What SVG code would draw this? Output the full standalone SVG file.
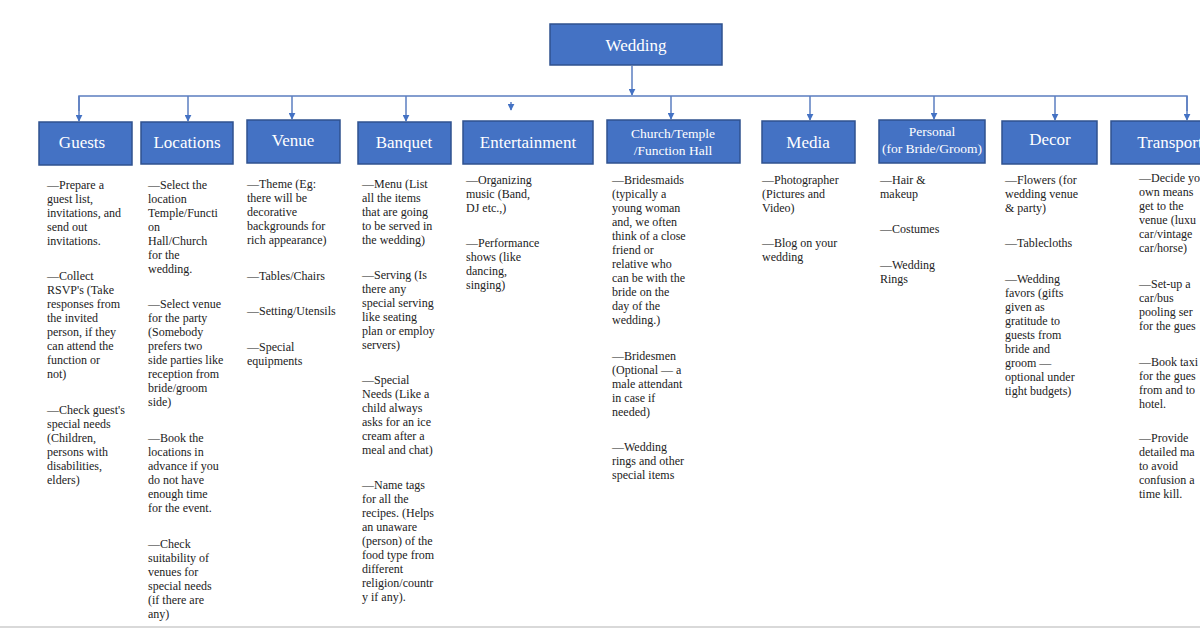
<svg xmlns="http://www.w3.org/2000/svg" width="1200" height="630" viewBox="0 0 1200 630">
<style>
.b{fill:#4472C4;stroke:#2F528F;stroke-width:1.5}
.h{font-family:"Liberation Serif",serif;font-size:17px;fill:#fff;text-anchor:middle}
.h2{font-family:"Liberation Serif",serif;font-size:13.5px;fill:#fff;text-anchor:middle}
.t{font-family:"Liberation Serif",serif;font-size:12px;fill:#222}
.c{stroke:#5B7EC0;stroke-width:1.5;fill:none}
</style>
<defs><marker id="a" viewBox="0 0 10 10" refX="9" refY="5" markerWidth="7" markerHeight="7" markerUnits="userSpaceOnUse" orient="auto"><path d="M0,0L10,5L0,10z" fill="#4472C4"/></marker></defs>
<rect width="1200" height="630" fill="#fff"/>
<g id="connectors">
<line class="c" x1="632" y1="66" x2="632" y2="95" marker-end="url(#a)"/>
<polyline class="c" points="79,111 79,96 1187,96 1187,111"/>
<line class="c" x1="79" y1="96" x2="79" y2="121" marker-end="url(#a)"/>
<line class="c" x1="188" y1="96" x2="188" y2="121" marker-end="url(#a)"/>
<line class="c" x1="292" y1="96" x2="292" y2="119" marker-end="url(#a)"/>
<line class="c" x1="406" y1="96" x2="406" y2="121" marker-end="url(#a)"/>
<line class="c" x1="511" y1="102" x2="511" y2="110" marker-end="url(#a)"/>
<line class="c" x1="671" y1="96" x2="671" y2="119" marker-end="url(#a)"/>
<line class="c" x1="810" y1="96" x2="810" y2="120" marker-end="url(#a)"/>
<line class="c" x1="934" y1="96" x2="934" y2="119" marker-end="url(#a)"/>
<line class="c" x1="1055" y1="96" x2="1055" y2="120" marker-end="url(#a)"/>
<line class="c" x1="1187" y1="96" x2="1187" y2="120" marker-end="url(#a)"/>
</g>
<g id="wedding"><rect class="b" x="550" y="24" width="172" height="41"/><text class="h" x="636" y="51" font-size="19">Wedding</text></g>
<g id="guests"><rect class="b" x="39" y="122" width="93" height="43"/><text class="h" x="82" y="148">Guests</text></g>
<g id="locations"><rect class="b" x="141" y="122" width="92" height="42"/><text class="h" x="187" y="148">Locations</text></g>
<g id="venue"><rect class="b" x="247" y="120" width="93" height="43"/><text class="h" x="293" y="146">Venue</text></g>
<g id="banquet"><rect class="b" x="358" y="122" width="93" height="42"/><text class="h" x="404" y="148">Banquet</text></g>
<g id="entertainment"><rect class="b" x="463" y="121" width="130" height="43"/><text class="h" x="528" y="148">Entertainment</text></g>
<g id="church"><rect class="b" x="607" y="120" width="133" height="43"/><text class="h2" x="673" y="138">Church/Temple</text><text class="h2" x="673" y="155">/Function Hall</text></g>
<g id="media"><rect class="b" x="762" y="121" width="93" height="42"/><text class="h" x="808" y="148">Media</text></g>
<g id="personal"><rect class="b" x="879" y="120" width="106" height="43"/><text class="h2" x="932" y="136">Personal</text><text class="h2" x="932" y="153">(for Bride/Groom)</text></g>
<g id="decor"><rect class="b" x="1002" y="121" width="95" height="43"/><text class="h" x="1050" y="145">Decor</text></g>
<g id="transport"><rect class="b" x="1111" y="121" width="100" height="43"/><text class="h" x="1170" y="148">Transport</text></g>
<g id="texts">
<text class="t" x="47"><tspan x="47" y="189">—Prepare a</tspan><tspan x="47" y="203">guest list,</tspan><tspan x="47" y="217">invitations, and</tspan><tspan x="47" y="231">send out</tspan><tspan x="47" y="245">invitations.</tspan><tspan x="47" y="280">—Collect</tspan><tspan x="47" y="294">RSVP's (Take</tspan><tspan x="47" y="308">responses from</tspan><tspan x="47" y="322">the invited</tspan><tspan x="47" y="336">person, if they</tspan><tspan x="47" y="350">can attend the</tspan><tspan x="47" y="364">function or</tspan><tspan x="47" y="378">not)</tspan><tspan x="47" y="414">—Check guest's</tspan><tspan x="47" y="428">special needs</tspan><tspan x="47" y="442">(Children,</tspan><tspan x="47" y="456">persons with</tspan><tspan x="47" y="470">disabilities,</tspan><tspan x="47" y="484">elders)</tspan></text>
<text class="t"><tspan x="148" y="189">—Select the</tspan><tspan x="148" y="203">location</tspan><tspan x="148" y="217">Temple/Functi</tspan><tspan x="148" y="231">on</tspan><tspan x="148" y="245">Hall/Church</tspan><tspan x="148" y="259">for the</tspan><tspan x="148" y="273">wedding.</tspan><tspan x="148" y="308">—Select venue</tspan><tspan x="148" y="322">for the party</tspan><tspan x="148" y="336">(Somebody</tspan><tspan x="148" y="350">prefers two</tspan><tspan x="148" y="364">side parties like</tspan><tspan x="148" y="378">reception from</tspan><tspan x="148" y="392">bride/groom</tspan><tspan x="148" y="406">side)</tspan><tspan x="148" y="442">—Book the</tspan><tspan x="148" y="456">locations in</tspan><tspan x="148" y="470">advance if you</tspan><tspan x="148" y="484">do not have</tspan><tspan x="148" y="498">enough time</tspan><tspan x="148" y="512">for the event.</tspan><tspan x="148" y="548">—Check</tspan><tspan x="148" y="562">suitability of</tspan><tspan x="148" y="576">venues for</tspan><tspan x="148" y="590">special needs</tspan><tspan x="148" y="604">(if there are</tspan><tspan x="148" y="618">any)</tspan></text>
<text class="t"><tspan x="247" y="188">—Theme (Eg:</tspan><tspan x="247" y="202">there will be</tspan><tspan x="247" y="216">decorative</tspan><tspan x="247" y="230">backgrounds for</tspan><tspan x="247" y="244">rich appearance)</tspan><tspan x="247" y="280">—Tables/Chairs</tspan><tspan x="247" y="315">—Setting/Utensils</tspan><tspan x="247" y="351">—Special</tspan><tspan x="247" y="365">equipments</tspan></text>
<text class="t"><tspan x="362" y="188">—Menu (List</tspan><tspan x="362" y="202">all the items</tspan><tspan x="362" y="216">that are going</tspan><tspan x="362" y="230">to be served in</tspan><tspan x="362" y="244">the wedding)</tspan><tspan x="362" y="279">—Serving (Is</tspan><tspan x="362" y="293">there any</tspan><tspan x="362" y="307">special serving</tspan><tspan x="362" y="321">like seating</tspan><tspan x="362" y="335">plan or employ</tspan><tspan x="362" y="349">servers)</tspan><tspan x="362" y="384">—Special</tspan><tspan x="362" y="398">Needs (Like a</tspan><tspan x="362" y="412">child always</tspan><tspan x="362" y="426">asks for an ice</tspan><tspan x="362" y="440">cream after a</tspan><tspan x="362" y="454">meal and chat)</tspan><tspan x="362" y="489">—Name tags</tspan><tspan x="362" y="503">for all the</tspan><tspan x="362" y="517">recipes. (Helps</tspan><tspan x="362" y="531">an unaware</tspan><tspan x="362" y="545">(person) of the</tspan><tspan x="362" y="559">food type from</tspan><tspan x="362" y="573">different</tspan><tspan x="362" y="587">religion/countr</tspan><tspan x="362" y="601">y if any).</tspan></text>
<text class="t"><tspan x="466" y="184">—Organizing</tspan><tspan x="466" y="198">music (Band,</tspan><tspan x="466" y="212">DJ etc.,)</tspan><tspan x="466" y="247">—Performance</tspan><tspan x="466" y="261">shows (like</tspan><tspan x="466" y="275">dancing,</tspan><tspan x="466" y="289">singing)</tspan></text>
<text class="t"><tspan x="612" y="184">—Bridesmaids</tspan><tspan x="612" y="198">(typically a</tspan><tspan x="612" y="212">young woman</tspan><tspan x="612" y="226">and, we often</tspan><tspan x="612" y="240">think of a close</tspan><tspan x="612" y="254">friend or</tspan><tspan x="612" y="268">relative who</tspan><tspan x="612" y="282">can be with the</tspan><tspan x="612" y="296">bride on the</tspan><tspan x="612" y="310">day of the</tspan><tspan x="612" y="324">wedding.)</tspan><tspan x="612" y="360">—Bridesmen</tspan><tspan x="612" y="374">(Optional — a</tspan><tspan x="612" y="388">male attendant</tspan><tspan x="612" y="402">in case if</tspan><tspan x="612" y="416">needed)</tspan><tspan x="612" y="451">—Wedding</tspan><tspan x="612" y="465">rings and other</tspan><tspan x="612" y="479">special items</tspan></text>
<text class="t"><tspan x="762" y="184">—Photographer</tspan><tspan x="762" y="198">(Pictures and</tspan><tspan x="762" y="212">Video)</tspan><tspan x="762" y="247">—Blog on your</tspan><tspan x="762" y="261">wedding</tspan></text>
<text class="t"><tspan x="880" y="184">—Hair &amp;</tspan><tspan x="880" y="198">makeup</tspan><tspan x="880" y="233">—Costumes</tspan><tspan x="880" y="269">—Wedding</tspan><tspan x="880" y="283">Rings</tspan></text>
<text class="t"><tspan x="1005" y="184">—Flowers (for</tspan><tspan x="1005" y="198">wedding venue</tspan><tspan x="1005" y="212">&amp; party)</tspan><tspan x="1005" y="247">—Tablecloths</tspan><tspan x="1005" y="283">—Wedding</tspan><tspan x="1005" y="297">favors (gifts</tspan><tspan x="1005" y="311">given as</tspan><tspan x="1005" y="325">gratitude to</tspan><tspan x="1005" y="339">guests from</tspan><tspan x="1005" y="353">bride and</tspan><tspan x="1005" y="367">groom —</tspan><tspan x="1005" y="381">optional under</tspan><tspan x="1005" y="395">tight budgets)</tspan></text>
<text class="t"><tspan x="1139" y="182">—Decide yo</tspan><tspan x="1139" y="196">own means</tspan><tspan x="1139" y="210">get to the</tspan><tspan x="1139" y="224">venue (luxu</tspan><tspan x="1139" y="238">car/vintage</tspan><tspan x="1139" y="252">car/horse)</tspan><tspan x="1139" y="288">—Set-up a</tspan><tspan x="1139" y="302">car/bus</tspan><tspan x="1139" y="316">pooling ser</tspan><tspan x="1139" y="330">for the gues</tspan><tspan x="1139" y="366">—Book taxi</tspan><tspan x="1139" y="380">for the gues</tspan><tspan x="1139" y="394">from and to</tspan><tspan x="1139" y="408">hotel.</tspan><tspan x="1139" y="442">—Provide</tspan><tspan x="1139" y="456">detailed ma</tspan><tspan x="1139" y="470">to avoid</tspan><tspan x="1139" y="484">confusion a</tspan><tspan x="1139" y="498">time kill.</tspan></text>
</g>
<line x1="0" y1="627" x2="1200" y2="627" stroke="#ccc" stroke-width="1.5"/>
</svg>
